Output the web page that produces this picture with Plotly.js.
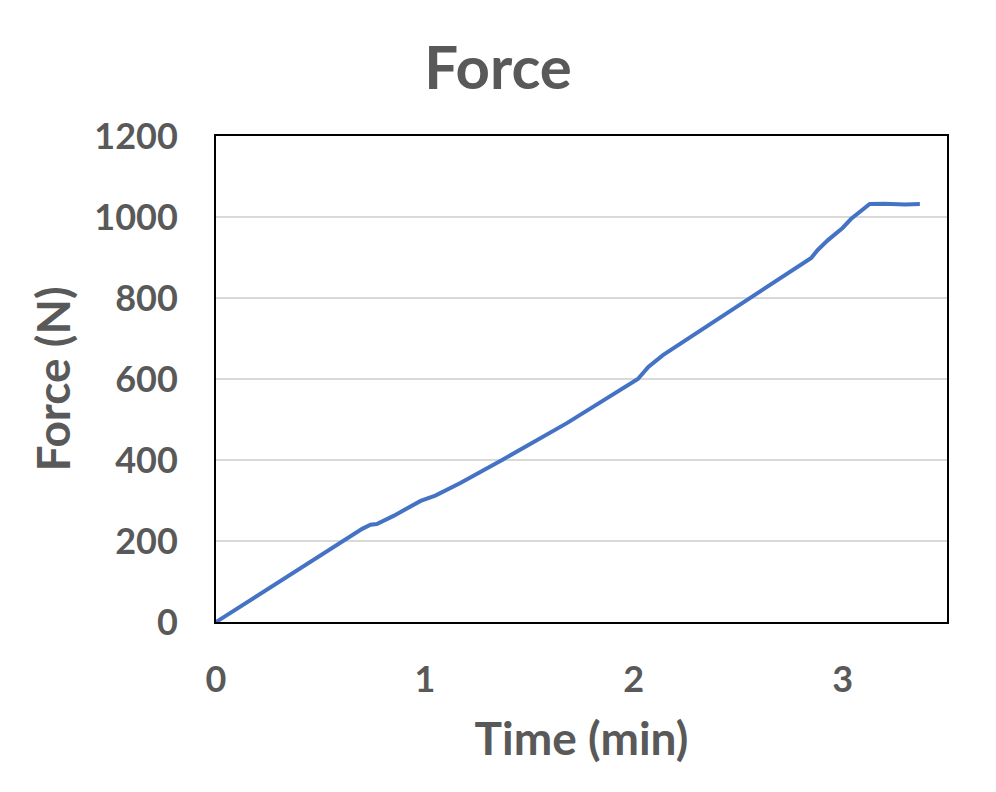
<!DOCTYPE html>
<html>
<head>
<meta charset="utf-8">
<script src="https://cdn.plot.ly/plotly-3.0.1.min.js"></script>
<style>
  html, body {margin: 0; padding: 0; background: #fff;}
  #div-force {width: 996px; height: 792px;}
</style>
</head>
<body>
<div id="div-force"></div>
<script>
// values
var time_min = [0, 0.1, 0.3, 0.61, 0.70, 0.74, 0.77, 0.85, 0.98, 1.05, 1.17, 1.37, 1.68,
                2.02, 2.07, 2.14, 2.43, 2.56, 2.85, 2.88, 2.93, 3.00, 3.04, 3.13, 3.20, 3.30, 3.37];
var force_n = [0, 33, 99, 200, 230, 240, 242, 262, 299, 312, 343, 400, 491,
               600, 630, 659, 758, 800, 899, 918, 943, 973, 995, 1032, 1033, 1031, 1032];

var text_color = '#595959';

function font(size) {
    return {family: 'Lato, "Open Sans", sans-serif', size: size, color: text_color, weight: 'bold'};
}

var data_force = {
    x: time_min,
    y: force_n,
    mode: 'lines',
    line: {color: '#4472C4', width: 4},
    showlegend: false
};

var layout = {
    autosize: false,
    width: 996,
    height: 792,
    margin: {l: 216, r: 49, t: 136, b: 170},
    paper_bgcolor: '#fff',
    plot_bgcolor: '#fff',
    title: {text: 'Force', font: font(60), x: 0.5, xref: 'container', xanchor: 'center',
            y: 1 - 68 / 792, yref: 'container', yanchor: 'middle'},
    xaxis: {
        range: [0, 3.5],
        dtick: 1,
        tick0: 0,
        showgrid: false,
        zeroline: false,
        showline: true,
        mirror: true,
        linecolor: '#000',
        linewidth: 2,
        ticks: '',
        ticklabelstandoff: 25,
        tickfont: font(36),
        title: {text: 'Time (min)', font: font(46), standoff: 24}
    },
    yaxis: {
        range: [0, 1200],
        dtick: 200,
        tick0: 0,
        showgrid: true,
        gridcolor: '#d9d9d9',
        gridwidth: 1.5,
        zeroline: false,
        showline: true,
        mirror: true,
        linecolor: '#000',
        linewidth: 2,
        ticks: '',
        ticklabelstandoff: 29,
        tickfont: font(36),
        title: {text: 'Force (N)', font: font(46), standoff: 9}
    }
};

Plotly.newPlot('div-force', [data_force], layout, {displayModeBar: false, staticPlot: true});
</script>
</body>
</html>
